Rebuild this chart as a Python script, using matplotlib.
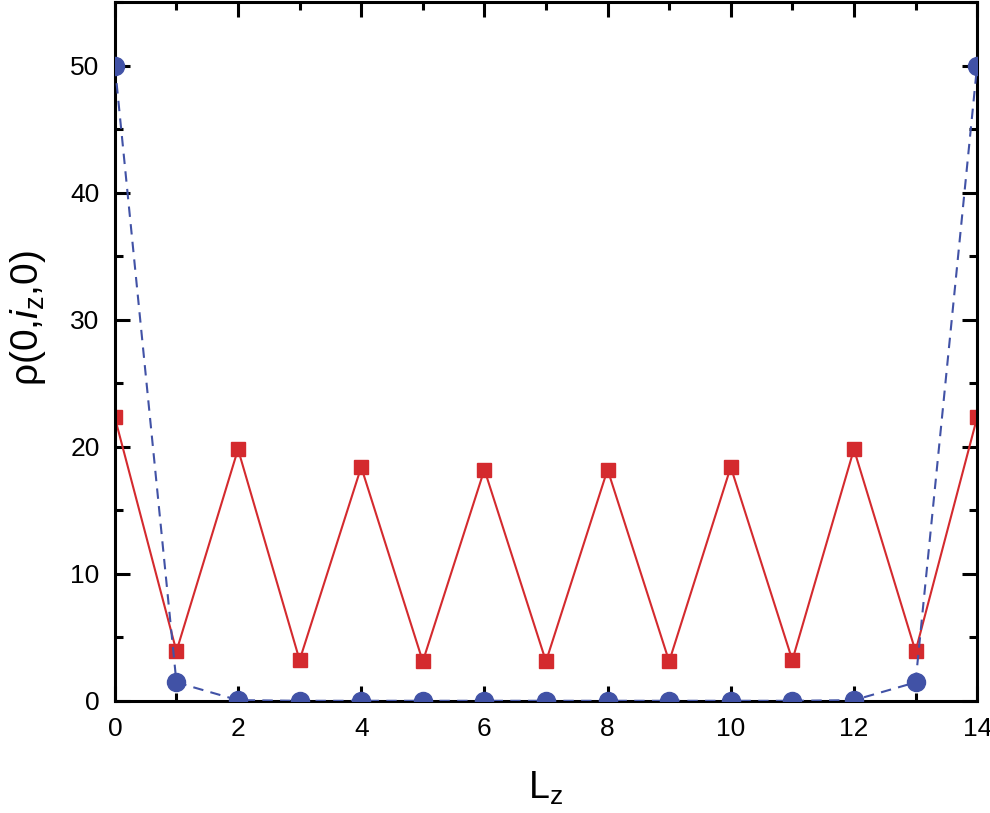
import matplotlib.pyplot as plt
from matplotlib.ticker import MultipleLocator

plt.rcParams['font.family'] = ['Liberation Sans', 'DejaVu Sans']
plt.rcParams['mathtext.fontset'] = 'custom'
plt.rcParams['mathtext.rm'] = 'Liberation Sans'
plt.rcParams['mathtext.it'] = 'Liberation Sans:italic'

# data
iz = list(range(15))
rho_red = [22.3, 3.9, 19.8, 3.2, 18.4, 3.1, 18.2, 3.1, 18.2, 3.1, 18.4, 3.2, 19.8, 3.9, 22.3]
rho_blue = [50.0, 1.45, 0.05, 0.0, 0.0, 0.0, 0.0, 0.0, 0.0, 0.0, 0.0, 0.0, 0.05, 1.45, 50.0]

fig = plt.figure(figsize=(9.9, 8.13), dpi=100)
ax = fig.add_axes([0.116, 0.138, 0.871, 0.8595])

ax.plot(iz, rho_red, '-', color='#d42a2e', lw=1.5, marker='s', ms=10.5,
        mec='#d42a2e', mfc='#d42a2e', zorder=2)
ax.plot(iz, rho_blue, '--', color='#4152a6', lw=1.5, dashes=(5, 3.5), marker='o', ms=13,
        mec='#4152a6', mfc='#4152a6', zorder=3)

ax.set_xlim(0, 14)
ax.set_ylim(0, 55)
ax.xaxis.set_major_locator(MultipleLocator(2))
ax.xaxis.set_minor_locator(MultipleLocator(1))
ax.yaxis.set_major_locator(MultipleLocator(10))
ax.yaxis.set_minor_locator(MultipleLocator(5))
ax.tick_params(which='both', direction='in', top=True, right=True, width=2.2)
ax.tick_params(which='major', length=11, labelsize=19)
ax.tick_params(which='minor', length=6)
ax.tick_params(axis='x', which='major', pad=12)
ax.tick_params(axis='y', which='major', pad=11)
for s in ax.spines.values():
    s.set_linewidth(2.2)

ax.set_xlabel(r'L$_\mathrm{z}$', fontsize=27, labelpad=20)
ax.set_ylabel(r'$\mathrm{\rho(0{,}}i_\mathrm{z}\mathrm{{,}0)}$', fontsize=28, labelpad=16)
ax.yaxis.label.set_y(0.548)

fig.savefig('out.png', dpi=100)
